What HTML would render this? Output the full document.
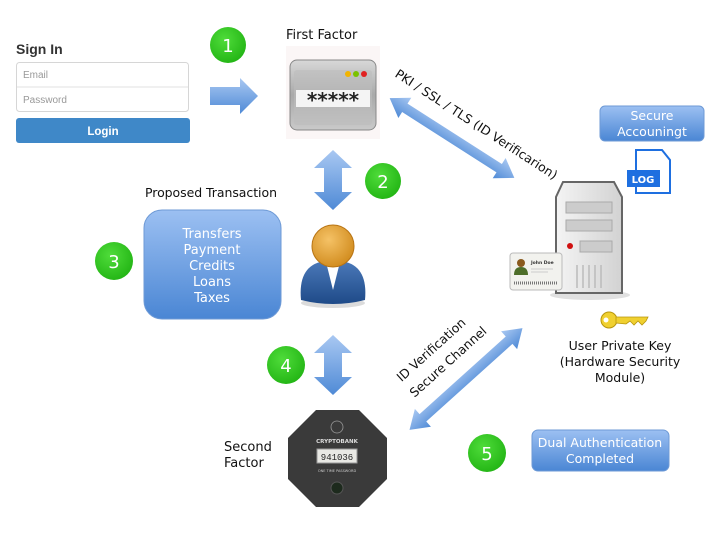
<!DOCTYPE html>
<html><head><meta charset="utf-8"><style>
html,body{margin:0;padding:0;background:#fff;width:720px;height:540px;overflow:hidden}
svg{display:block}
text{font-family:"DejaVu Sans","Liberation Sans",sans-serif}
</style></head><body>
<svg width="720" height="540" viewBox="0 0 720 540" xmlns="http://www.w3.org/2000/svg">
<defs>
<linearGradient id="bl" x1="0" y1="0" x2="0" y2="1"><stop offset="0" stop-color="#9cc0f2"/><stop offset="1" stop-color="#4a86d4"/></linearGradient>
<linearGradient id="ar" x1="0" y1="0" x2="0" y2="1"><stop offset="0" stop-color="#a9c8f2"/><stop offset="1" stop-color="#4f8ad6"/></linearGradient>
<radialGradient id="gr" cx="0.4" cy="0.35" r="0.7"><stop offset="0" stop-color="#4fdc3a"/><stop offset="1" stop-color="#22b414"/></radialGradient>
<linearGradient id="win" x1="0" y1="0" x2="0" y2="1"><stop offset="0" stop-color="#d8d8d8"/><stop offset="0.5" stop-color="#a9a9a9"/><stop offset="1" stop-color="#c9c9c9"/></linearGradient>
<linearGradient id="srv" x1="0" y1="0" x2="1" y2="0"><stop offset="0" stop-color="#f4f4f4"/><stop offset="1" stop-color="#d2d2d2"/></linearGradient>
<radialGradient id="head" cx="0.4" cy="0.35" r="0.7"><stop offset="0" stop-color="#f5c266"/><stop offset="1" stop-color="#d08a1c"/></radialGradient>
<linearGradient id="body" x1="0" y1="0" x2="0" y2="1"><stop offset="0" stop-color="#4a78b8"/><stop offset="1" stop-color="#1e4a88"/></linearGradient>
</defs>

<text x="16" y="54" font-size="14" font-weight="bold" fill="#333" style="font-family:'Liberation Sans',sans-serif">Sign In</text>
<rect x="16.5" y="62.5" width="172" height="49" rx="3" fill="#fff" stroke="#d6d6d6"/>
<line x1="17" y1="87" x2="188" y2="87" stroke="#e0e0e0"/>
<text x="23" y="78" font-size="10" fill="#999" style="font-family:'Liberation Sans',sans-serif">Email</text>
<text x="23" y="103" font-size="10" fill="#999" style="font-family:'Liberation Sans',sans-serif">Password</text>
<rect x="16" y="118" width="174" height="25" rx="3" fill="#3f88c8"/>
<text x="103" y="135" font-size="11.5" font-weight="bold" fill="#fff" text-anchor="middle" style="font-family:'Liberation Sans',sans-serif">Login</text>

<circle cx="228" cy="45" r="18" fill="url(#gr)"/>
<text x="228" y="52" font-size="18" fill="#fff" text-anchor="middle">1</text>
<polygon points="210,87 240,87 240,78 258,96 240,114 240,105 210,105" fill="url(#ar)"/>

<text x="286" y="39" font-size="13" fill="#111">First Factor</text>
<rect x="286" y="46" width="94" height="93" fill="#fbf6f6"/>
<rect x="290" y="60" width="86" height="70" rx="7" fill="url(#win)" stroke="#888"/>
<rect x="294" y="70" width="78" height="55" rx="3" fill="#bdbdbd" opacity="0.6"/>
<circle cx="348" cy="74" r="3" fill="#f2b400"/><circle cx="356" cy="74" r="3" fill="#7ac200"/><circle cx="364" cy="74" r="3" fill="#e02020"/>
<rect x="296" y="90" width="74" height="17" fill="#f4f4f4"/>
<text x="333" y="107" font-size="20" font-weight="bold" fill="#222" text-anchor="middle">*****</text>

<polygon points="333,150 352,168 342,168 342,192 352,192 333,210 314,192 324,192 324,168 314,168" fill="url(#ar)"/>
<circle cx="383" cy="181" r="18" fill="url(#gr)"/>
<text x="383" y="188" font-size="18" fill="#fff" text-anchor="middle">2</text>

<text x="145" y="197" font-size="12.5" fill="#111" textLength="132">Proposed Transaction</text>
<rect x="144" y="210" width="137" height="109" rx="18" fill="url(#bl)" stroke="#6e9ad6"/>
<g font-size="13" fill="#fff" text-anchor="middle">
<text x="212" y="238">Transfers</text>
<text x="212" y="254">Payment</text>
<text x="212" y="270">Credits</text>
<text x="212" y="286">Loans</text>
<text x="212" y="302">Taxes</text>
</g>
<circle cx="114" cy="261" r="19" fill="url(#gr)"/>
<text x="114" y="268" font-size="18" fill="#fff" text-anchor="middle">3</text>

<ellipse cx="333" cy="303" rx="32" ry="5" fill="#ccc" opacity="0.7"/>
<path d="M301,300 Q298,268 320,262 L346,262 Q368,268 365,300 Q333,308 301,300Z" fill="url(#body)"/>
<polygon points="326,262 333,290 340,262" fill="#fff"/>
<circle cx="333" cy="246" r="21" fill="url(#head)" stroke="#b87414"/>

<polygon points="333,335 352,353 342,353 342,377 352,377 333,395 314,377 324,377 324,353 314,353" fill="url(#ar)"/>
<circle cx="286" cy="365" r="19" fill="url(#gr)"/>
<text x="286" y="372" font-size="18" fill="#fff" text-anchor="middle">4</text>

<polygon points="316,410 359,410 387,438 387,479 359,507 316,507 288,479 288,438" fill="#3a3a3a"/>
<circle cx="337" cy="427" r="6" fill="none" stroke="#999" stroke-width="0.8"/>
<text x="337" y="443" font-size="5.5" font-weight="bold" fill="#ddd" text-anchor="middle">CRYPTOBANK</text>
<rect x="317" y="449" width="40" height="14" fill="#e8e8e4" stroke="#999"/>
<text x="337" y="460" font-size="9" fill="#222" text-anchor="middle" style="font-family:'Liberation Mono',monospace">941036</text>
<text x="337" y="472" font-size="3.5" fill="#ccc" text-anchor="middle">ONE TIME PASSWORD</text>
<circle cx="337" cy="488" r="6" fill="#1d2a1d" stroke="#555"/>
<text x="224" y="451" font-size="13" fill="#111">Second</text>
<text x="224" y="467" font-size="13" fill="#111">Factor</text>

<g transform="translate(452,138) rotate(32.6)">
<polygon points="-74,0 -56,-12 -56,-5 56,-5 56,-12 74,0 56,12 56,5 -56,5 -56,12" fill="url(#ar)"/>
</g>
<text x="474" y="128" font-size="12.5" fill="#111" text-anchor="middle" transform="rotate(33 474 128)">PKI / SSL / TLS (ID Verificarion)</text>

<g transform="translate(466,379) rotate(-42)">
<polygon points="-76,0 -58,-12 -58,-5 58,-5 58,-12 76,0 58,12 58,5 -58,5 -58,12" fill="url(#ar)"/>
</g>
<text x="434" y="353" font-size="12.5" fill="#111" text-anchor="middle" transform="rotate(-42 434 353)">ID Verification</text>
<text x="451" y="365" font-size="12.5" fill="#111" text-anchor="middle" transform="rotate(-42 451 365)">Secure Channel</text>

<rect x="600" y="106" width="104" height="35" rx="5" fill="url(#bl)" stroke="#6e9ad6"/>
<text x="652" y="120" font-size="12.5" fill="#fff" text-anchor="middle">Secure</text>
<text x="652" y="136" font-size="12.5" fill="#fff" text-anchor="middle">Accouningt</text>
<polygon points="636,150 662,150 670,160 670,193 636,193" fill="#fff" stroke="#1e6fe0" stroke-width="2"/>
<rect x="627" y="170" width="33" height="17" fill="#1e6fe0"/>
<text x="643" y="183" font-size="10" font-weight="bold" fill="#fff" text-anchor="middle">LOG</text>

<ellipse cx="590" cy="295" rx="40" ry="5" fill="#ccc" opacity="0.6"/>
<polygon points="563,182 614,182 622,197 622,293 556,293 556,197" fill="url(#srv)" stroke="#666" stroke-width="2"/>
<rect x="566" y="202" width="46" height="11" fill="#ccc" stroke="#aaa"/>
<rect x="566" y="220" width="46" height="11" fill="#ccc" stroke="#aaa"/>
<rect x="580" y="241" width="32" height="11" fill="#ccc" stroke="#aaa"/>
<circle cx="570" cy="246" r="3" fill="#d01010"/>
<g stroke="#bbb" stroke-width="1.5"><line x1="577" y1="265" x2="577" y2="288"/><line x1="583" y1="265" x2="583" y2="288"/><line x1="589" y1="265" x2="589" y2="288"/><line x1="595" y1="265" x2="595" y2="288"/><line x1="601" y1="265" x2="601" y2="288"/></g>
<rect x="510" y="253" width="52" height="37" rx="3" fill="#f2f2ee" stroke="#bbb"/>
<circle cx="521" cy="263" r="4" fill="#8a5a1e"/>
<path d="M514,275 Q514,267 521,267 Q528,267 528,275Z" fill="#4e6e2a"/>
<text x="531" y="264" font-size="4.5" font-weight="bold" fill="#333">John Doe</text>
<line x1="531" y1="269" x2="553" y2="269" stroke="#ccc"/><line x1="531" y1="272" x2="548" y2="272" stroke="#ccc"/>
<line x1="514" y1="283" x2="557" y2="283" stroke="#777" stroke-width="3" stroke-dasharray="1,1"/>

<circle cx="609" cy="320" r="8" fill="#f0d030" stroke="#b8960c"/>
<circle cx="606" cy="320" r="2.5" fill="#fff"/>
<polygon points="616,317 648,317 646,321 642,325 638,321 634,325 630,321 626,324 616,323" fill="#f0d030" stroke="#b8960c" stroke-width="0.8"/>
<g font-size="12.5" fill="#111" text-anchor="middle">
<text x="620" y="350">User Private Key</text>
<text x="620" y="366">(Hardware Security</text>
<text x="620" y="382">Module)</text>
</g>

<circle cx="487" cy="453" r="19" fill="url(#gr)"/>
<text x="487" y="460" font-size="18" fill="#fff" text-anchor="middle">5</text>
<rect x="532" y="430" width="137" height="41" rx="6" fill="url(#bl)" stroke="#6e9ad6"/>
<text x="600" y="447" font-size="12.5" fill="#fff" text-anchor="middle">Dual Authentication</text>
<text x="600" y="463" font-size="12.5" fill="#fff" text-anchor="middle">Completed</text>
</svg>
</body></html>
